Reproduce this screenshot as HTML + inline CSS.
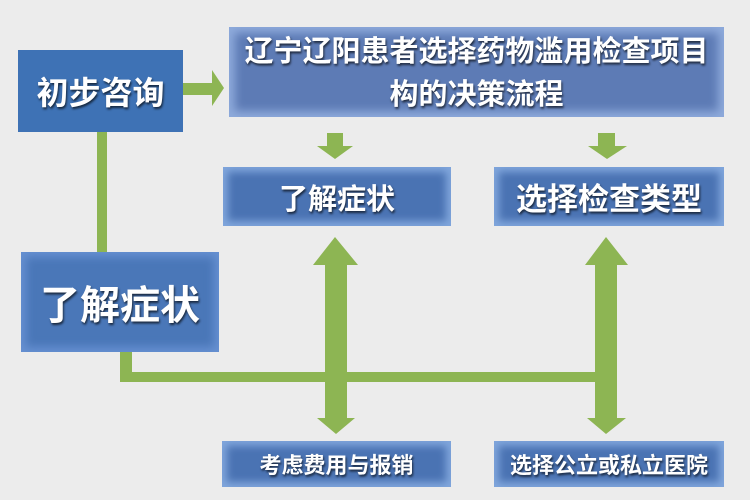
<!DOCTYPE html>
<html><head><meta charset="utf-8"><style>
html,body{margin:0;padding:0;}
body{width:750px;height:500px;background:#ececec;position:relative;overflow:hidden;font-family:"Liberation Sans","Noto Sans CJK SC",sans-serif;}
.b{position:absolute;box-sizing:border-box;display:flex;align-items:center;justify-content:center;color:#fff;font-weight:bold;text-shadow:1px 2px 2px rgba(0,0,0,0.65);text-align:center;white-space:nowrap;}
.f{background:#4a73b3;box-shadow:inset 0 0 8px 5px #80a6dc;}
svg{position:absolute;left:0;top:0;}
</style></head><body>
<svg width="750" height="500" viewBox="0 0 750 500">
<g fill="#8db553">
<rect x="183" y="83" width="30" height="12"/>
<polygon points="212,70 224,88 212,106"/>
<rect x="97" y="132" width="10" height="121"/>
<rect x="327" y="133" width="16" height="14"/>
<polygon points="317,146 353,146 335,159"/>
<rect x="598" y="133" width="17" height="14"/>
<polygon points="588,146 627,146 607,159"/>
<rect x="120" y="352" width="12" height="30"/>
<rect x="120" y="372" width="480" height="10"/>
<rect x="325" y="264" width="22" height="155"/>
<polygon points="313,265 358,265 335,237"/>
<polygon points="317,418 355,418 336,434"/>
<rect x="595" y="264" width="22" height="155"/>
<polygon points="585,265 628,265 606,237"/>
<polygon points="587,418 626,418 606,434"/>
</g>
</svg>
<div class="b" style="left:18px;top:50px;width:165px;height:82px;background:#3e72b5;font-size:32px;">初步咨询</div>
<div class="b" style="left:229px;top:27px;width:495px;height:90px;background:#5d7bb5;box-shadow:inset 0 0 9px 6px #8eaadb;font-size:29px;line-height:43px;padding-top:4px;">辽宁辽阳患者选择药物滥用检查项目<br>构的决策流程</div>
<div class="b f" style="left:223px;top:167px;width:228px;height:59px;font-size:29px;">了解症状</div>
<div class="b f" style="left:494px;top:167px;width:230px;height:59px;font-size:31px;">选择检查类型</div>
<div class="b" style="left:21px;top:252px;width:198px;height:100px;background:#4a77b8;box-shadow:inset 0 0 9px 5px #6690d1;font-size:40px;">了解症状</div>
<div class="b f" style="left:222px;top:441px;width:229px;height:46px;font-size:22px;">考虑费用与报销</div>
<div class="b f" style="left:494px;top:441px;width:230px;height:46px;font-size:22px;">选择公立或私立医院</div>
</body></html>
